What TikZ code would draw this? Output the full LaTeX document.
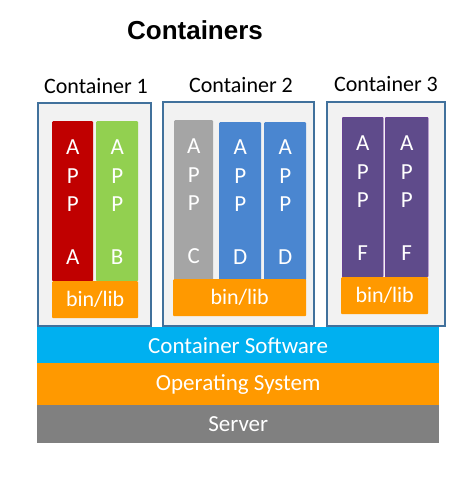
\documentclass[tikz,border=0pt]{standalone}
\usepackage{fontspec}
\setmainfont{Carlito}
\newfontfamily\titlefont{Liberation Sans}
\usetikzlibrary{positioning}
\definecolor{boxblue}{HTML}{41719C}
\definecolor{boxgray}{HTML}{F2F2F2}
\definecolor{appred}{HTML}{C00000}
\definecolor{appgreen}{HTML}{92D050}
\definecolor{appgray}{HTML}{A5A5A5}
\definecolor{appblue}{HTML}{4A86D0}
\definecolor{apppurple}{HTML}{5F4B8B}
\definecolor{appviolet}{HTML}{7030A0}
\definecolor{liborange}{HTML}{FF9900}
\definecolor{softblue}{HTML}{00B0F0}
\definecolor{servergray}{HTML}{808080}
\newcommand{\appletters}[1]{\mbox{}\\[-12pt]A\\P\\P\\[24pt]#1}
\tikzset{
  app/.style={ % one application column
    rectangle, anchor=north west, rounded corners=1pt,
    minimum width=41pt, minimum height=160pt, inner sep=0pt,
    text=white, align=center, font=\fontsize{23}{28.5}\selectfont
  },
  binlib/.style={ % shared libraries under the apps
    rectangle, anchor=north west, fill=liborange, rounded corners=1pt,
    minimum height=37pt, inner sep=0pt,
    text=white, font=\fontsize{22}{26}\selectfont
  },
  container/.style={ % outline of one container
    draw=boxblue, fill=boxgray, line width=1.6pt
  },
  layer/.style={ % a full-width layer of the stack
    rectangle, anchor=north west, minimum width=402pt, inner sep=0pt,
    text=white, font=\fontsize{23}{26}\selectfont
  },
  clabel/.style={
    font=\fontsize{22}{26}\selectfont
  }
}

\begin{document}
\begin{tikzpicture}[x=1pt,y=-1pt]
  \useasboundingbox (0,0) rectangle (474,477);

  \node[font=\titlefont\bfseries\fontsize{26}{30}\selectfont] (title) at (195,30) {Containers};

  % container outlines
  \draw[container] (38,103) rectangle (151,326);
  \draw[container] (163,102) rectangle (314,326);
  \draw[container] (327,102) rectangle (445,326);
  \node[clabel] (c1_label) at (96,86) {Container 1};
  \node[clabel] (c2_label) at (241,85) {Container 2};
  \node[clabel] (c3_label) at (386,84) {Container 3};

  % container 1
  \node[app, fill=appred] (appA) at (52,121) {\appletters{A}};
  \node[app, fill=appgreen, minimum width=42pt] (appB) at (96,121) {\appletters{B}};
  \node[binlib, minimum width=86pt] (lib1) at (52,281) {bin/lib};

  % container 2
  \node[app, fill=appgray, minimum width=39pt] (appC) at (174,120) {\appletters{C}};
  \node[app, fill=appblue, minimum width=42pt, minimum height=158pt] (appD1) at (219,122) {\appletters{D}};
  \node[app, fill=appblue, minimum width=42pt, minimum height=158pt] (appD2) at (264,122) {\appletters{D}};
  \node[binlib, minimum width=133pt] (lib2) at (173,279) {bin/lib};

  % container 3
  \node[app, fill=apppurple, draw=appviolet] (appF1) at (342,117) {\appletters{F}};
  \node[app, fill=apppurple, draw=appviolet, minimum width=43pt] (appF2) at (385,117) {\appletters{F}};
  \node[binlib, minimum width=87pt] (lib3) at (341,277) {bin/lib};

  % the stack below
  \node[layer, fill=softblue, minimum height=36pt] (software) at (37,327) {Container Software};
  \node[layer, fill=liborange, minimum height=42pt] (os) at (37,363) {Operating System};
  \node[layer, fill=servergray, minimum height=38pt] (server) at (37,405) {Server};
\end{tikzpicture}
\end{document}
